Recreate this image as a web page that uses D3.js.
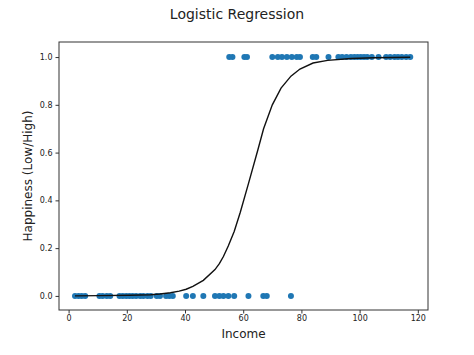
<!DOCTYPE html>
<html><head><meta charset="utf-8">
<script src="https://cdn.jsdelivr.net/npm/d3@7"></script>
<style>body{margin:0;background:#fff;} svg{display:block;} text{font-family:"DejaVu Sans",sans-serif;fill:#222;}</style>
</head><body><svg id="c" width="474" height="355"></svg>
<script>
// Observations with Happiness = 0 (Low)
const lowIncome = [2.2,3.4,4.5,5.7,10.6,11.7,13.1,14.3,17.5,18.6,19.8,20.9,22.0,23.2,24.6,25.7,27.1,28.2,30.3,31.4,33.5,34.6,35.8,40.4,42.7,46.3,50.3,51.8,53.2,54.9,56.9,61.8,66.9,68.1,76.4];
// Observations with Happiness = 1 (High)
const highIncome = [55.2,56.3,60.4,61.3,70.0,71.9,73.3,75.0,76.7,78.4,79.5,83.9,85.1,89.3,92.7,94.0,95.5,97.0,98.2,99.3,100.4,101.5,102.6,104.2,106.5,109.1,110.5,112.0,113.2,114.5,116.0,117.4];
// Fitted curve
const curveX = [2.2,10.6,20.9,28.2,31.4,35.0,38.0,40.4,42.7,46.3,50.3,51.8,53.2,54.9,56.9,59.0,61.8,65.0,67.0,70.0,73.0,76.4,79.5,84.0,89.0,97.0,105.0,117.4];
const curveY = [0.0,0.001,0.003,0.005,0.008,0.013,0.02,0.028,0.04,0.065,0.11,0.135,0.165,0.21,0.27,0.35,0.47,0.61,0.70,0.80,0.87,0.92,0.95,0.975,0.986,0.994,0.997,0.999];
const xTicks = [0,20,40,60,80,100,120];
const yTicks = [0.0,0.2,0.4,0.6,0.8,1.0];

const svg = d3.select("#c");
const L=59, R=428, T=42, B=310;
const x = d3.scaleLinear().domain([-3.3,123.5]).range([L,R]);
const y = d3.scaleLinear().domain([-0.059,1.063]).range([B,T]);

svg.append("text").attr("x",237).attr("y",19).attr("text-anchor","middle").attr("font-size",14).text("Logistic Regression");

const gx = svg.append("g").attr("transform",`translate(0,${B})`)
  .call(d3.axisBottom(x).tickValues(xTicks).tickSize(3.5).tickPadding(2).tickFormat(d3.format("d")));
const gy = svg.append("g").attr("transform",`translate(${L},0)`)
  .call(d3.axisLeft(y).tickValues(yTicks).tickSize(3.5).tickPadding(3).tickFormat(d3.format(".1f")));
[gx,gy].forEach(g=>{g.select(".domain").remove();g.selectAll("line").attr("stroke","#333");g.selectAll("text").attr("font-size",8).attr("font-family","DejaVu Sans").attr("fill","#222");});

svg.append("rect").attr("x",L).attr("y",T).attr("width",R-L).attr("height",B-T).attr("fill","none").attr("stroke","#333").attr("stroke-width",1);

const pts = lowIncome.map(v=>[v,0]).concat(highIncome.map(v=>[v,1]));
svg.append("g").selectAll("circle").data(pts).join("circle")
  .attr("cx",d=>x(d[0])).attr("cy",d=>y(d[1])).attr("r",3).attr("fill","#1f77b4");

svg.append("path").datum(curveX.map((v,i)=>[v,curveY[i]]))
  .attr("d",d3.line().x(d=>x(d[0])).y(d=>y(d[1])))
  .attr("fill","none").attr("stroke","#111").attr("stroke-width",1.4);

svg.append("text").attr("x",(L+R)/2).attr("y",338).attr("text-anchor","middle").attr("font-size",12).text("Income");
svg.append("text").attr("transform",`translate(32,${(T+B)/2}) rotate(-90)`).attr("text-anchor","middle").attr("font-size",12).text("Happiness (Low/High)");
</script></body></html>
